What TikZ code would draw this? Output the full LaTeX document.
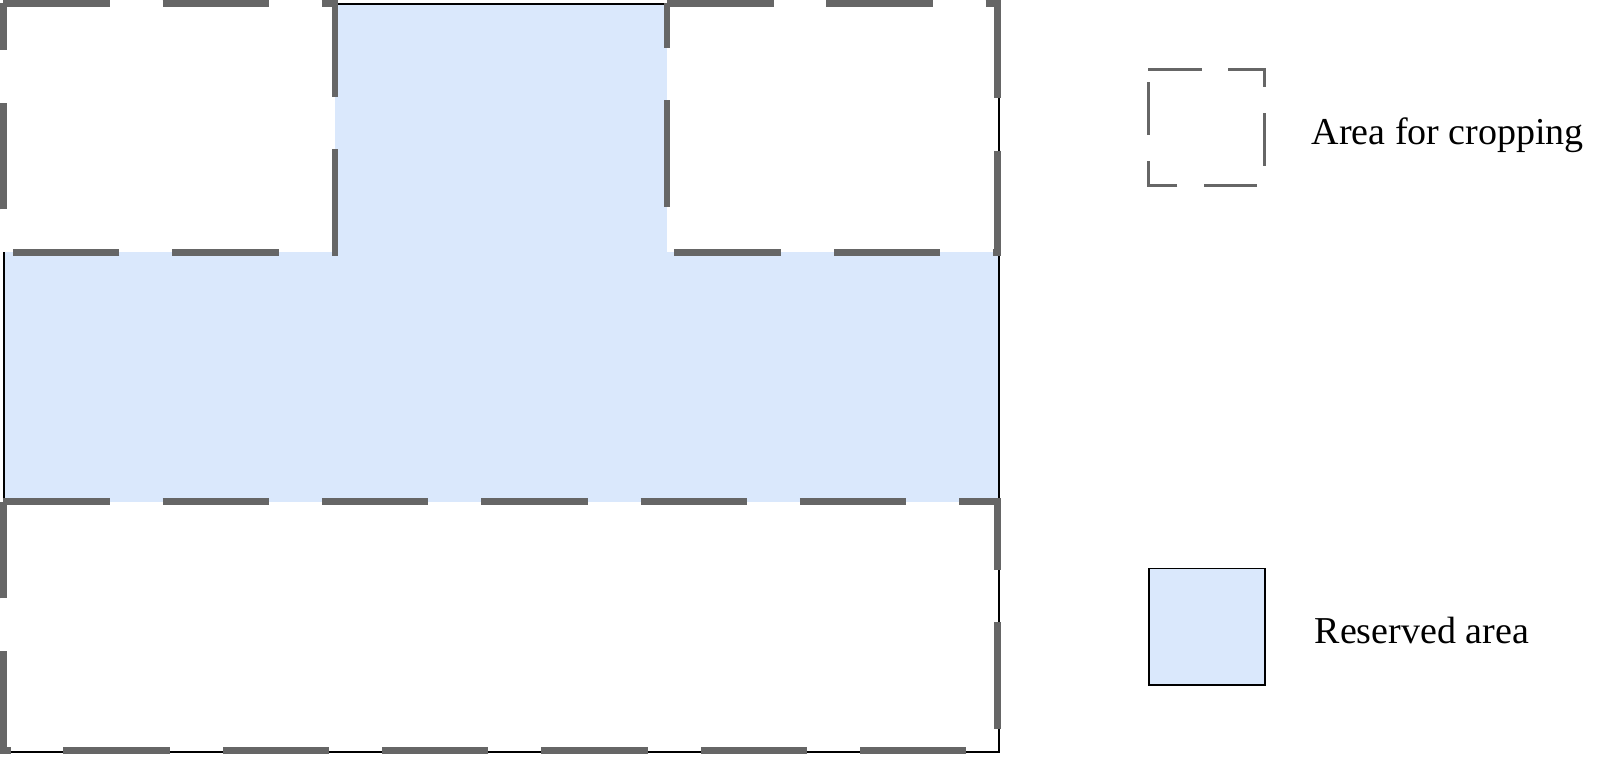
\documentclass[tikz,border=0pt]{standalone}
\usepackage{fontspec}
\setmainfont{Liberation Serif}
\definecolor{resblue}{HTML}{DAE8FC}
\definecolor{cropgray}{HTML}{666666}
\tikzset{
  reserved/.style={fill=resblue, draw=black, line width=1.5pt},
  cropbig/.style={fill=white, draw=cropgray, line width=6.5pt, dash pattern=on 106.5pt off 52.8pt},
  cropsmall/.style={draw=cropgray, line width=3.25pt, dash pattern=on 53.3pt off 26.5pt},
  legendtext/.style={anchor=base west, inner sep=0pt, font=\fontsize{38}{44}\selectfont}
}
\begin{document}
\begin{tikzpicture}[x=1pt,y=-1pt]
\useasboundingbox (0,0) rectangle (1600,759);
% reserved area (underneath)
\draw[reserved] (4,4) -- (999,4) -- (999,752) -- (4,752) -- cycle;
% cropping areas
\draw[cropbig] (3.3,3.3) -- (335,3.3) -- (335,252.5) -- (3.3,252.5) -- cycle;
\draw[cropbig] (667,3.3) -- (997.5,3.3) -- (997.5,252.5) -- (667,252.5) -- cycle;
\draw[cropbig] (3.3,501.5) -- (997.5,501.5) -- (997.5,750.5) -- (3.3,750.5) -- cycle;
% legend
\draw[cropsmall] (1148.3,69.5) -- (1264.3,69.5) -- (1264.3,185.7) -- (1148.3,185.7) -- cycle;
\node[legendtext] (cropl) at (1311.5,145) {Area for cropping};
\draw[reserved] (1149,568.5) -- (1265,568.5) -- (1265,685) -- (1149,685) -- cycle;
\node[legendtext] (resl) at (1314.5,643.3) {Reserved area};
\end{tikzpicture}
\end{document}
